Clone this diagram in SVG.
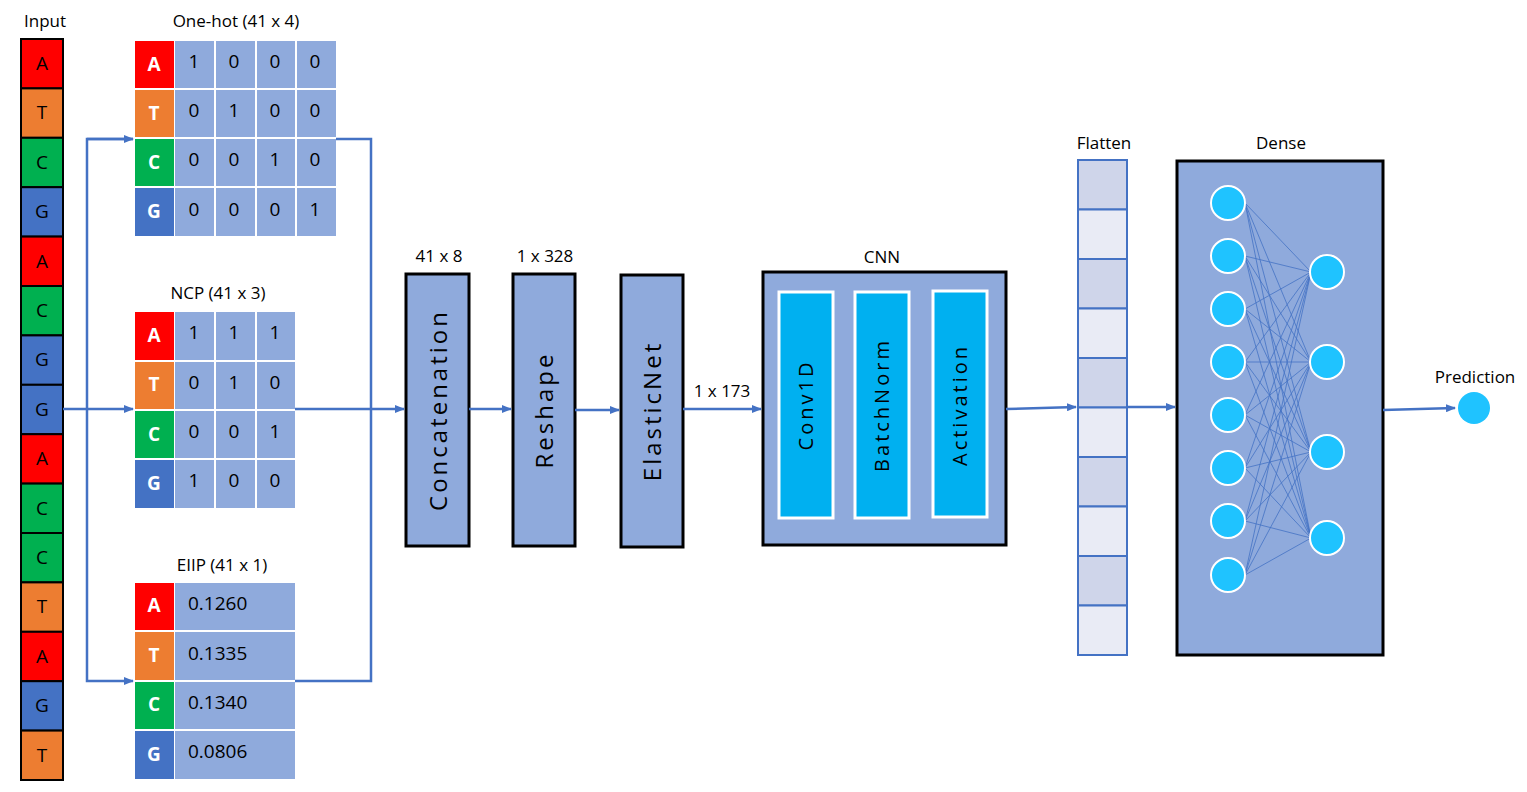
<svg xmlns="http://www.w3.org/2000/svg" width="1527" height="792" viewBox="0 0 1527 792">
<style>
text{font-family:"Open Sans","DejaVu Sans",sans-serif;fill:#000}
.lbl{font-size:17px;text-anchor:middle}
.inp{stroke:#000;stroke-width:2}
.let{font-size:19px;font-weight:bold;fill:#fff;text-anchor:middle}
.num{font-size:19px;text-anchor:middle}
.d{fill:#8faadc}
.blk{fill:#8faadc;stroke:#000;stroke-width:3}
.vt{font-size:24px;letter-spacing:3px;text-anchor:middle}
.in{fill:#00b0f0;stroke:#fff;stroke-width:3}
.c{stroke:#4472c4;stroke-width:2.5;fill:none}
.n{fill:#1fc3ff;stroke:#fff;stroke-width:2}
.w{stroke:#4472c4;stroke-width:0.8}
</style>
<defs><marker id="ar" markerWidth="10" markerHeight="8" refX="9" refY="4" orient="auto" markerUnits="userSpaceOnUse"><path d="M0,0 L10,4 L0,8z" fill="#4472c4"/></marker></defs>
<text class="lbl" x="45" y="27">Input</text>
<g id="input">
<rect class="inp" x="21" y="39" width="42" height="49.4" fill="#ff0000"/><text class="num" x="42" y="70">A</text>
<rect class="inp" x="21" y="88.4" width="42" height="49.4" fill="#ed7d31"/><text class="num" x="42" y="119">T</text>
<rect class="inp" x="21" y="137.8" width="42" height="49.4" fill="#00b050"/><text class="num" x="42" y="169">C</text>
<rect class="inp" x="21" y="187.2" width="42" height="49.4" fill="#4472c4"/><text class="num" x="42" y="218">G</text>
<rect class="inp" x="21" y="236.6" width="42" height="49.4" fill="#ff0000"/><text class="num" x="42" y="268">A</text>
<rect class="inp" x="21" y="286" width="42" height="49.4" fill="#00b050"/><text class="num" x="42" y="317">C</text>
<rect class="inp" x="21" y="335.4" width="42" height="49.4" fill="#4472c4"/><text class="num" x="42" y="366">G</text>
<rect class="inp" x="21" y="384.8" width="42" height="49.4" fill="#4472c4"/><text class="num" x="42" y="416">G</text>
<rect class="inp" x="21" y="434.2" width="42" height="49.4" fill="#ff0000"/><text class="num" x="42" y="465">A</text>
<rect class="inp" x="21" y="483.6" width="42" height="49.4" fill="#00b050"/><text class="num" x="42" y="515">C</text>
<rect class="inp" x="21" y="533" width="42" height="49.4" fill="#00b050"/><text class="num" x="42" y="564">C</text>
<rect class="inp" x="21" y="582.4" width="42" height="49.4" fill="#ed7d31"/><text class="num" x="42" y="613">T</text>
<rect class="inp" x="21" y="631.8" width="42" height="49.4" fill="#ff0000"/><text class="num" x="42" y="663">A</text>
<rect class="inp" x="21" y="681.2" width="42" height="49.4" fill="#4472c4"/><text class="num" x="42" y="712">G</text>
<rect class="inp" x="21" y="730.6" width="42" height="49.4" fill="#ed7d31"/><text class="num" x="42" y="762">T</text>
</g>
<g id="onehot">
<text class="lbl" x="236" y="27">One-hot (41 x 4)</text>
<rect x="135" y="41" width="39" height="47" fill="#ff0000"/><text class="let" x="154" y="71">A</text>
<rect x="135" y="90" width="39" height="47" fill="#ed7d31"/><text class="let" x="154" y="120">T</text>
<rect x="135" y="139" width="39" height="47" fill="#00b050"/><text class="let" x="154" y="169">C</text>
<rect x="135" y="188" width="39" height="48" fill="#4472c4"/><text class="let" x="154" y="218">G</text>
<g class="d">
<rect x="175" y="41" width="39" height="47"/><rect x="216" y="41" width="39" height="47"/><rect x="257" y="41" width="38" height="47"/><rect x="297" y="41" width="39" height="47"/>
<rect x="175" y="90" width="39" height="47"/><rect x="216" y="90" width="39" height="47"/><rect x="257" y="90" width="38" height="47"/><rect x="297" y="90" width="39" height="47"/>
<rect x="175" y="139" width="39" height="47"/><rect x="216" y="139" width="39" height="47"/><rect x="257" y="139" width="38" height="47"/><rect x="297" y="139" width="39" height="47"/>
<rect x="175" y="188" width="39" height="48"/><rect x="216" y="188" width="39" height="48"/><rect x="257" y="188" width="38" height="48"/><rect x="297" y="188" width="39" height="48"/>
</g>
<text class="num" x="194" y="68">1</text><text class="num" x="234" y="68">0</text><text class="num" x="275" y="68">0</text><text class="num" x="315" y="68">0</text>
<text class="num" x="194" y="117">0</text><text class="num" x="234" y="117">1</text><text class="num" x="275" y="117">0</text><text class="num" x="315" y="117">0</text>
<text class="num" x="194" y="166">0</text><text class="num" x="234" y="166">0</text><text class="num" x="275" y="166">1</text><text class="num" x="315" y="166">0</text>
<text class="num" x="194" y="216">0</text><text class="num" x="234" y="216">0</text><text class="num" x="275" y="216">0</text><text class="num" x="315" y="216">1</text>
</g>
<g id="ncp">
<text class="lbl" x="218" y="299">NCP (41 x 3)</text>
<rect x="135" y="312" width="39" height="48" fill="#ff0000"/><text class="let" x="154" y="342">A</text>
<rect x="135" y="362" width="39" height="47" fill="#ed7d31"/><text class="let" x="154" y="391">T</text>
<rect x="135" y="411" width="39" height="47" fill="#00b050"/><text class="let" x="154" y="441">C</text>
<rect x="135" y="460" width="39" height="48" fill="#4472c4"/><text class="let" x="154" y="490">G</text>
<g class="d">
<rect x="175" y="312" width="39" height="48"/><rect x="216" y="312" width="39" height="48"/><rect x="257" y="312" width="38" height="48"/>
<rect x="175" y="362" width="39" height="47"/><rect x="216" y="362" width="39" height="47"/><rect x="257" y="362" width="38" height="47"/>
<rect x="175" y="411" width="39" height="47"/><rect x="216" y="411" width="39" height="47"/><rect x="257" y="411" width="38" height="47"/>
<rect x="175" y="460" width="39" height="48"/><rect x="216" y="460" width="39" height="48"/><rect x="257" y="460" width="38" height="48"/>
</g>
<text class="num" x="194" y="339">1</text><text class="num" x="234" y="339">1</text><text class="num" x="275" y="339">1</text>
<text class="num" x="194" y="389">0</text><text class="num" x="234" y="389">1</text><text class="num" x="275" y="389">0</text>
<text class="num" x="194" y="438">0</text><text class="num" x="234" y="438">0</text><text class="num" x="275" y="438">1</text>
<text class="num" x="194" y="487">1</text><text class="num" x="234" y="487">0</text><text class="num" x="275" y="487">0</text>
</g>
<g id="eiip">
<text class="lbl" x="222" y="571">EIIP (41 x 1)</text>
<rect x="135" y="583" width="39" height="47" fill="#ff0000"/><text class="let" x="154" y="612">A</text>
<rect x="135" y="632" width="39" height="48" fill="#ed7d31"/><text class="let" x="154" y="662">T</text>
<rect x="135" y="682" width="39" height="47" fill="#00b050"/><text class="let" x="154" y="711">C</text>
<rect x="135" y="731" width="39" height="48" fill="#4472c4"/><text class="let" x="154" y="761">G</text>
<g class="d"><rect x="175" y="583" width="120" height="47"/><rect x="175" y="632" width="120" height="48"/><rect x="175" y="682" width="120" height="47"/><rect x="175" y="731" width="120" height="48"/></g>
<text class="num" x="188" y="610" text-anchor="start" style="text-anchor:start">0.1260</text>
<text class="num" x="188" y="660" style="text-anchor:start">0.1335</text>
<text class="num" x="188" y="709" style="text-anchor:start">0.1340</text>
<text class="num" x="188" y="758" style="text-anchor:start">0.0806</text>
</g>
<g id="concat"><text class="lbl" x="439" y="262">41 x 8</text><rect class="blk" x="406" y="274" width="63" height="272"/><text class="vt" transform="translate(447,410) rotate(-90)">Concatenation</text></g>
<g id="reshape"><text class="lbl" x="545" y="262">1 x 328</text><rect class="blk" x="513" y="274" width="62" height="272"/><text class="vt" transform="translate(553,410) rotate(-90)">Reshape</text></g>
<g id="elasticnet"><rect class="blk" x="621" y="275" width="62" height="272"/><text class="vt" transform="translate(661,411) rotate(-90)">ElasticNet</text></g>
<text class="lbl" x="722" y="397">1 x 173</text>
<g id="cnn"><text class="lbl" x="882" y="263">CNN</text><rect class="blk" x="763" y="272" width="243" height="273"/>
<rect class="in" x="779" y="292" width="54" height="226"/><text class="vt" style="font-size:20px" transform="translate(813,405) rotate(-90)">Conv1D</text>
<rect class="in" x="855" y="292" width="54" height="226"/><text class="vt" style="font-size:20px" transform="translate(889,405) rotate(-90)">BatchNorm</text>
<rect class="in" x="933" y="291" width="54" height="226"/><text class="vt" style="font-size:20px" transform="translate(967,405) rotate(-90)">Activation</text>
</g>
<g id="flatten"><text class="lbl" x="1104" y="149">Flatten</text>
<g stroke="#4472c4" stroke-width="2">
<rect x="1078" y="160" width="49" height="49.5" fill="#cfd5ea"/><rect x="1078" y="209.5" width="49" height="49.5" fill="#e9ebf5"/>
<rect x="1078" y="259" width="49" height="49.5" fill="#cfd5ea"/><rect x="1078" y="308.5" width="49" height="49.5" fill="#e9ebf5"/>
<rect x="1078" y="358" width="49" height="49.5" fill="#cfd5ea"/><rect x="1078" y="407.5" width="49" height="49.5" fill="#e9ebf5"/>
<rect x="1078" y="457" width="49" height="49.5" fill="#cfd5ea"/><rect x="1078" y="506.5" width="49" height="49.5" fill="#e9ebf5"/>
<rect x="1078" y="556" width="49" height="49.5" fill="#cfd5ea"/><rect x="1078" y="605.5" width="49" height="49.5" fill="#e9ebf5"/>
</g></g>
<g id="dense"><text class="lbl" x="1281" y="149">Dense</text><rect class="blk" x="1177" y="161" width="206" height="494"/>
<g class="w">
<path d="M1245,203L1311,272M1245,203L1311,362M1245,203L1311,452M1245,203L1311,538M1245,256L1311,272M1245,256L1311,362M1245,256L1311,452M1245,256L1311,538M1245,309L1311,272M1245,309L1311,362M1245,309L1311,452M1245,309L1311,538M1245,362L1311,272M1245,362L1311,362M1245,362L1311,452M1245,362L1311,538M1245,415L1311,272M1245,415L1311,362M1245,415L1311,452M1245,415L1311,538M1245,468L1311,272M1245,468L1311,362M1245,468L1311,452M1245,468L1311,538M1245,521L1311,272M1245,521L1311,362M1245,521L1311,452M1245,521L1311,538M1245,575L1311,272M1245,575L1311,362M1245,575L1311,452M1245,575L1311,538"/>
</g>
<circle class="n" cx="1228" cy="203" r="17"/><circle class="n" cx="1228" cy="256" r="17"/><circle class="n" cx="1228" cy="309" r="17"/><circle class="n" cx="1228" cy="362" r="17"/>
<circle class="n" cx="1228" cy="415" r="17"/><circle class="n" cx="1228" cy="468" r="17"/><circle class="n" cx="1228" cy="521" r="17"/><circle class="n" cx="1228" cy="575" r="17"/>
<circle class="n" cx="1327" cy="272" r="17"/><circle class="n" cx="1327" cy="362" r="17"/><circle class="n" cx="1327" cy="452" r="17"/><circle class="n" cx="1327" cy="538" r="17"/>
</g>
<g id="prediction"><text class="lbl" x="1475" y="383">Prediction</text><circle cx="1474" cy="408" r="16" fill="#1fc3ff"/></g>
<g id="connectors">
<path class="c" d="M63,409H133" marker-end="url(#ar)"/>
<path class="c" d="M133,139H87V681H133" marker-end="url(#ar)"/>
<path class="c" d="M87,139H133" marker-end="url(#ar)"/>
<path class="c" d="M336,139H371V681H295"/>
<path class="c" d="M295,409H404" marker-end="url(#ar)"/>
<path class="c" d="M469,409H511" marker-end="url(#ar)"/>
<path class="c" d="M575,410H619" marker-end="url(#ar)"/>
<path class="c" d="M683,409H761" marker-end="url(#ar)"/>
<path class="c" d="M1006,409L1076,407" marker-end="url(#ar)"/>
<path class="c" d="M1127,407H1175" marker-end="url(#ar)"/>
<path class="c" d="M1383,410L1455,408" marker-end="url(#ar)"/>
</g>
</svg>
